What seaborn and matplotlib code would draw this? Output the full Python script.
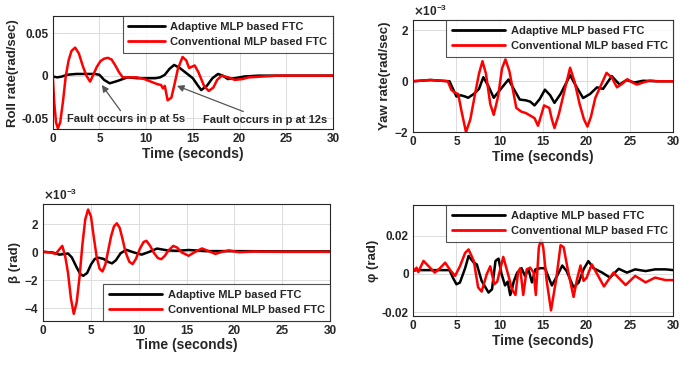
"""
FTC comparison: roll rate, yaw rate, sideslip and roll angle responses.
"""

import matplotlib
matplotlib.use("Agg")
import matplotlib.pyplot as plt
from matplotlib.ticker import FormatStrFormatter
import seaborn as sns
import pandas as pd
import numpy as np

# ---- data ----
labels = ["Adaptive MLP based FTC", "Conventional MLP based FTC"]

roll_t_ad = [0, 0.5, 1.0, 1.5, 2.5, 3.5, 4.5, 5.0, 5.5, 6.1, 7.0, 8.0, 9.0, 10.0, 11.0, 11.5,
             12.0, 12.5, 13.0, 13.6, 14.3, 15.0, 15.5, 15.9, 16.5, 17.1, 17.7, 18.2, 18.75,
             19.5, 20.5, 22, 24, 27, 30]
roll_ad = [-0.001, -0.002, -0.001, 0.001, 0.002, 0.002, 0.002, 0.001, -0.005, -0.009, -0.006,
           -0.002, -0.003, -0.003, -0.003, -0.002, 0.001, 0.008, 0.0126, 0.009, 0.003, -0.003,
           -0.011, -0.017, -0.012, -0.003, 0.002, 0.0, -0.004, -0.003, -0.001, 0.0, 0.0, 0.0, 0.0]

roll_t_cv = [0, 0.15, 0.35, 0.55, 0.8, 1.1, 1.4, 1.7, 2.0, 2.4, 2.8, 3.2, 3.6, 4.0, 4.3, 4.7,
             5.1, 5.5, 5.9, 6.3, 6.7, 7.1, 7.5, 8.2, 9.0, 9.8, 10.5, 11.2, 11.6, 11.8, 12.0,
             12.3, 12.7, 13.0, 13.4, 13.9, 14.3, 14.6, 15.2, 15.6, 16.2, 16.7, 17.2, 17.6,
             18.1, 18.8, 19.5, 20.3, 21.0, 22.5, 24, 27, 30]
roll_cv = [0.0, -0.03, -0.055, -0.062, -0.055, -0.03, 0.0, 0.018, 0.029, 0.033, 0.026, 0.012,
           0.0, -0.007, 0.0, 0.010, 0.017, 0.020, 0.021, 0.019, 0.012, 0.004, -0.002, -0.002,
           -0.002, -0.004, -0.007, -0.010, -0.011, -0.015, -0.012, -0.029, -0.026, -0.012,
           0.008, 0.022, 0.018, 0.009, 0.012, 0.004, -0.012, -0.018, -0.014, -0.005, 0.0,
           -0.002, -0.005, -0.004, -0.002, -0.001, 0.0, 0.0, 0.0]

yaw_t_ad = [0, 2, 4.2, 4.6, 5.0, 5.5, 6.0, 6.35, 7.0, 7.6, 8.1, 8.7, 9.3, 10.0, 11.0, 11.6,
            12.3, 13.0, 13.5, 14.0, 14.6, 15.2, 15.8, 16.3, 17.0, 17.6, 18.1, 18.8, 19.6,
            20.4, 21.2, 21.9, 22.4, 22.9, 23.8, 24.6, 25.5, 26.5, 28, 30]
yaw_ad = [0.0, 0.05, 0.0, -0.3, -0.6, -0.55, -0.6, -0.65, -0.5, -0.3, 0.16, -0.2, -0.65, -0.35,
          0.07, -0.3, -0.72, -0.75, -0.8, -0.95, -0.7, -0.33, -0.55, -0.85, -0.5, -0.1, 0.24,
          -0.2, -0.66, -0.5, -0.24, -0.3, -0.05, 0.2, -0.13, 0.05, -0.05, 0.02, 0.0, 0.0]

yaw_t_cv = [0, 2, 4.0, 4.4, 4.8, 5.2, 5.6, 6.1, 6.6, 7.2, 7.6, 8.0, 8.4, 8.9, 9.3, 9.8,
            10.25, 10.65, 11.1, 11.9, 12.5, 13.0, 13.5, 14.0, 14.4, 14.8, 15.1, 15.7, 16.0,
            16.3, 16.8, 17.5, 18.1, 18.6, 19.2, 19.7, 20.1, 20.5, 21.0, 21.6, 22.3, 22.9,
            23.5, 24.1, 24.7, 25.3, 25.8, 26.5, 27.3, 28.2, 30]
yaw_cv = [0.0, 0.05, 0.0, -0.33, -0.45, -0.5, -1.2, -2.0, -1.5, -0.4, 0.3, 0.79, 0.3, -0.9,
          -1.32, -0.6, 0.5, 0.86, 0.4, -1.05, -1.2, -1.25, -1.35, -1.45, -1.75, -1.3, -0.95,
          -1.05, -1.5, -1.84, -1.3, -0.3, 0.53, 0.0, -0.9, -1.5, -1.78, -1.4, -0.66, -0.2, 0.33,
          0.15, -0.24, -0.1, 0.08, -0.05, -0.13, -0.05, 0.03, 0.0, 0.0]

beta_t_ad = [0, 1.0, 1.7, 2.3, 2.6, 3.0, 3.5, 3.9, 4.2, 4.6, 5.0, 5.4, 5.8, 6.3, 6.8, 7.2,
             7.6, 8.1, 8.7, 9.5, 10.3, 11.1, 11.9, 13.0, 14.0, 15.2, 17, 20, 25, 30]
beta_ad = [0.0, -0.05, -0.2, -0.15, -0.12, -0.4, -1.1, -1.6, -1.7, -1.5, -0.9, -0.5, -0.42,
           -0.5, -0.72, -0.82, -0.6, -0.1, 0.14, -0.05, -0.2, 0.0, 0.23, 0.1, 0.07, 0.13, 0.05,
           0.05, 0.03, 0.03]

beta_t_cv = [0, 0.8, 1.3, 2.0, 2.3, 2.6, 2.9, 3.2, 3.5, 3.8, 4.1, 4.4, 4.7, 5.0, 5.3, 5.6,
             5.9, 6.2, 6.5, 6.8, 7.1, 7.4, 7.7, 8.0, 8.3, 8.6, 9.0, 9.35, 9.7, 10.1, 10.5,
             10.8, 11.2, 11.6, 12.0, 12.35, 12.7, 13.1, 13.6, 14.0, 14.5, 15.2, 15.9, 16.6,
             17.3, 18.0, 18.7, 19.4, 20.5, 22, 25, 30]
beta_cv = [0.0, -0.05, -0.15, 0.42, -0.3, -1.5, -3.3, -4.4, -3.6, -1.8, 0.5, 2.3, 3.0, 2.5,
           1.0, -0.4, -1.2, -1.39, -0.9, 0.1, 1.1, 1.8, 2.02, 1.7, 0.9, 0.0, -0.7, -0.87, -0.5,
           0.2, 0.7, 0.78, 0.4, -0.1, -0.45, -0.52, -0.3, 0.1, 0.42, 0.3, -0.05, -0.28, 0.0,
           0.24, 0.05, -0.15, 0.0, 0.1, -0.03, 0.02, 0.0, 0.0]

phi_t_ad = [0, 2, 4.2, 4.6, 5.0, 5.4, 6.0, 6.4, 7.0, 7.35, 7.9, 8.7, 9.1, 9.5, 9.85, 10.2,
            10.6, 10.9, 11.2, 11.4, 11.6, 12.0, 12.5, 12.9, 13.3, 13.7, 14.1, 14.65, 15.2,
            16.0, 16.6, 17.2, 17.7, 18.5, 19.1, 19.65, 20.2, 20.8, 21.8, 22.7, 23.7, 24.65,
            25.6, 26.8, 27.9, 29.1, 30]
phi_ad = [0.002, 0.002, 0.002, -0.002, -0.0054, -0.0045, 0.003, 0.0094, 0.0059, 0.005,
          -0.0036, -0.0097, -0.008, 0.0068, 0.008, 0.0, -0.006, -0.004, -0.011, -0.008, -0.004,
          0.0007, 0.003, -0.001, 0.0024, -0.0044, 0.0024, 0.003, 0.003, -0.006, -0.001, 0.0044,
          0.0015, -0.007, -0.0044, 0.0024, 0.0067, 0.003, 0.0007, -0.0019, 0.0027, 0.0007,
          0.0024, 0.0015, 0.0024, 0.0024, 0.002]

phi_t_cv = [0, 0.2, 0.4, 0.6, 1.2, 1.8, 2.5, 3.1, 3.7, 4.3, 4.85, 5.4, 6.0, 6.4, 7.0, 7.5,
            7.9, 8.5, 8.9, 9.35, 9.7, 10.4, 11.0, 11.4, 11.8, 12.1, 12.35, 12.7, 13.1, 13.5,
            13.9, 14.15, 14.5, 14.75, 15.0, 15.4, 15.9, 16.5, 17.0, 17.35, 17.9, 18.5, 18.9,
            19.3, 19.65, 20.0, 20.6, 22.0, 23.1, 24.5, 25.6, 26.8, 27.9, 29.1, 30]
phi_cv = [0.003, 0.0016, 0.0033, 0.001, 0.0068, 0.004, 0.0007, 0.003, 0.0059, 0.0019, -0.001,
          0.004, 0.011, 0.0128, 0.0068, -0.007, -0.0092, 0.0, 0.004, -0.0054, -0.004, 0.0089,
          -0.001, -0.008, -0.011, 0.0007, 0.003, -0.011, 0.0024, 0.0033, 0.0007, -0.011, 0.014,
          0.018, 0.014, -0.0036, -0.019, -0.0027, 0.015, 0.014, 0.0007, -0.012, -0.0027,
          0.0044, -0.0036, -0.002, 0.005, -0.0065, 0.0007, -0.0058, -0.001, -0.0044, -0.0019,
          -0.0032, -0.0032]

colors = ["black", "red"]


def make_df(t_ad, y_ad, t_cv, y_cv, scale=1.0):
    a = pd.DataFrame({"t": t_ad, "y": np.array(y_ad) * scale, "ctrl": labels[0]})
    c = pd.DataFrame({"t": t_cv, "y": np.array(y_cv) * scale, "ctrl": labels[1]})
    return pd.concat([a, c], ignore_index=True)


sns.set_style("whitegrid")
plt.rcParams["font.family"] = ["Liberation Sans", "DejaVu Sans"]
plt.rcParams["font.weight"] = "bold"
plt.rcParams["axes.labelweight"] = "bold"
plt.rcParams["axes.unicode_minus"] = False

fig = plt.figure(figsize=(6.85, 3.68), dpi=100)
axes = [
    fig.add_axes([0.077, 0.649, 0.409, 0.307]),
    fig.add_axes([0.603, 0.641, 0.380, 0.304]),
    fig.add_axes([0.063, 0.128, 0.419, 0.318]),
    fig.add_axes([0.603, 0.141, 0.380, 0.302]),
]

# df, ylabel, ylim, yticks, legend loc, sci offset, legend handle length
panels = [
    (make_df(roll_t_ad, roll_ad, roll_t_cv, roll_cv), "Roll rate(rad/sec)",
     (-0.063, 0.07), [-0.05, 0, 0.05], "upper right", False, 3.3),
    (make_df(yaw_t_ad, yaw_ad, yaw_t_cv, yaw_cv, 1e-3), "Yaw rate(rad/sec)",
     (-2e-3, 2.4e-3), [-2e-3, 0, 2e-3], "upper right", True, 4.8),
    (make_df(beta_t_ad, beta_ad, beta_t_cv, beta_cv, 1e-3), "β (rad)",
     (-4.9e-3, 3.4e-3), [-4e-3, -2e-3, 0, 2e-3], "lower right", True, 4.8),
    (make_df(phi_t_ad, phi_ad, phi_t_cv, phi_cv), "φ (rad)",
     (-0.022, 0.036), [-0.02, 0, 0.02], "upper right", False, 4.8),
]

for ax, (df, ylab, ylim, yticks, loc, sci, hlen) in zip(axes, panels):
    sns.lineplot(data=df, x="t", y="y", hue="ctrl", palette=colors, estimator=None,
                 linewidth=1.8, ax=ax)
    ax.set_xlim(0, 30)
    ax.set_ylim(*ylim)
    ax.set_xticks([0, 5, 10, 15, 20, 25, 30])
    ax.set_yticks(yticks)
    ax.set_xlabel("Time (seconds)", fontsize=10, color="#262626", labelpad=1)
    ax.set_ylabel(ylab, fontsize=9.5, color="#262626", labelpad=2)
    ax.tick_params(direction="in", length=3, labelsize=8.5, colors="#262626", pad=3)
    if sci:
        ax.ticklabel_format(axis="y", style="sci", scilimits=(-3, -3), useMathText=True)
        ax.yaxis.get_offset_text().set_fontsize(8.5)
    else:
        ax.yaxis.set_major_formatter(FormatStrFormatter("%g"))
    for lab in ax.get_xticklabels() + ax.get_yticklabels():
        lab.set_fontweight("bold")
    ax.grid(True, color="#dcdcdc", linewidth=0.7)
    for s in ax.spines.values():
        s.set_color("#262626")
        s.set_linewidth(0.8)
    leg = ax.legend(loc=loc, frameon=True, fancybox=False, fontsize=8, handlelength=hlen,
                    borderaxespad=0, borderpad=0.5, labelspacing=0.5, handletextpad=0.5)
    leg.get_frame().set_edgecolor("#262626")
    leg.get_frame().set_linewidth(0.8)
    for txt in leg.get_texts():
        txt.set_fontweight("bold")
        txt.set_color("#262626")
    for ln in leg.get_lines():
        ln.set_linewidth(2.0)

# fault annotations on the roll-rate panel
arrow = dict(arrowstyle="-|>", color="#555555", lw=0.9, mutation_scale=10,
             shrinkA=0, shrinkB=0)
axes[0].annotate("Fault occurs in p at 5s", xy=(5.25, -0.011), xytext=(7.9, -0.051),
                 ha="center", va="center", fontsize=8, fontweight="bold", color="#262626",
                 arrowprops=arrow)
axes[0].annotate("Fault occurs in p at 12s", xy=(13.3, -0.012), xytext=(22.7, -0.052),
                 ha="center", va="center", fontsize=8, fontweight="bold", color="#262626",
                 arrowprops=arrow)

fig.savefig("out.png", dpi=100)
plt.close(fig)
